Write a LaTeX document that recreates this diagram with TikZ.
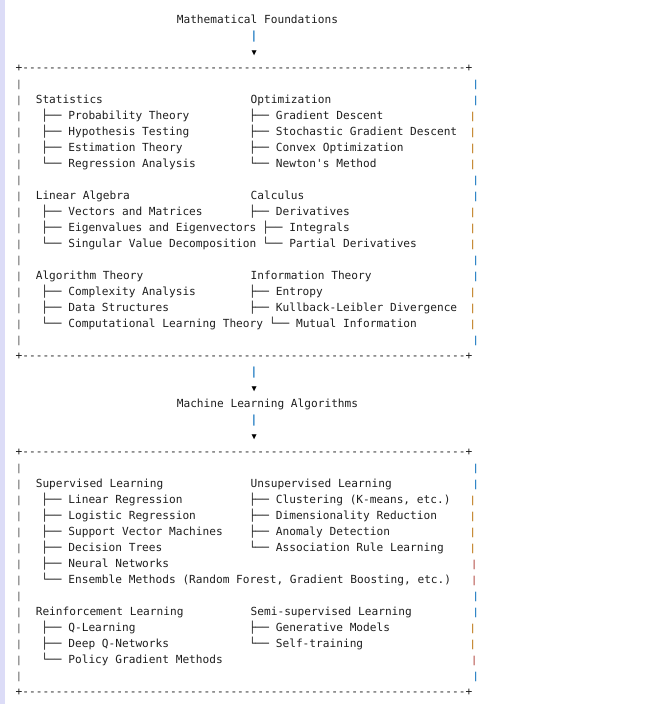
\documentclass[tikz,border=0pt]{standalone}
\usepackage{fontspec}
\setmonofont{DejaVu Sans Mono}
\usetikzlibrary{calc,positioning}
\definecolor{inkgray}{HTML}{1E1E1E}
\definecolor{sidebar}{HTML}{DCDCF7}
\definecolor{framegray}{HTML}{3C3C3C}
\definecolor{barblue}{HTML}{1A78C0}
\definecolor{barorange}{HTML}{C07E22}
\definecolor{barred}{HTML}{B85650}
\tikzset{
  ascii/.style={inner sep=0pt, outer sep=0pt, anchor=base west, text=inkgray,
    font=\ttfamily\fontsize{11.155pt}{16pt}\selectfont},
  framebar/.style={inner sep=0pt, outer sep=0pt, anchor=base, text=framegray,
    font=\ttfamily\fontsize{9.6pt}{16pt}\selectfont},
  sidebar bar/.style={framebar, font=\ttfamily\bfseries\fontsize{9.6pt}{16pt}\selectfont},
  flowbar/.style={inner sep=0pt, outer sep=0pt, anchor=base, text=barblue,
    font=\ttfamily\bfseries\fontsize{11.155pt}{16pt}\selectfont},
  flowtip/.style={inner sep=0pt, outer sep=0pt, anchor=base, text=black,
    font=\ttfamily\fontsize{8.5pt}{16pt}\selectfont}
}

\begin{document}
\begin{tikzpicture}

  \useasboundingbox (0,0) rectangle (653pt,-704pt);
  \fill[sidebar] (0,0) rectangle (5pt,-704pt);

  \begin{scope}[shift={(19pt,-23.3pt)}, x=6.716pt, y=-16pt]

    % first stage
    \node[ascii] at (23.5,0) (math_title) {Mathematical Foundations};
    \node[flowbar] at (35,1) (math_bar) {|};
    \node[flowtip] at (35,2) (math_tip) {▼};
    \node[ascii] at (-0.5,3) (math_top) {+------------------------------------------------------------------+};

    \foreach \l in {4,...,20}
      \node[framebar] at (0,\l) (math_lbar_\l) {|};
    \foreach \l in {4,5,10,11,15,16,20}
      \node[sidebar bar,text=barblue] at (68,\l) (math_rbar_\l) {|};
    \foreach \l in {6,7,8,9,12,13,14,17,18,19}
      \node[sidebar bar,text=barorange] at (67.55,\l) (math_rbar_\l) {|};

    \node[ascii] at (2.5,5) (stats) {Statistics};
    \node[ascii] at (3.35,6) (stats_a) {├── Probability Theory};
    \node[ascii] at (3.35,7) (stats_b) {├── Hypothesis Testing};
    \node[ascii] at (3.35,8) (stats_c) {├── Estimation Theory};
    \node[ascii] at (3.35,9) (stats_d) {└── Regression Analysis};

    \node[ascii] at (34.5,5) (optim) {Optimization};
    \node[ascii] at (34.25,6) (optim_a) {├── Gradient Descent};
    \node[ascii] at (34.25,7) (optim_b) {├── Stochastic Gradient Descent};
    \node[ascii] at (34.25,8) (optim_c) {├── Convex Optimization};
    \node[ascii] at (34.25,9) (optim_d) {└── Newton's Method};

    \node[ascii] at (2.5,11) (linalg) {Linear Algebra};
    \node[ascii] at (3.35,12) (linalg_a) {├── Vectors and Matrices};
    \node[ascii] at (3.35,13) (linalg_b) {├── Eigenvalues and Eigenvectors};
    \node[ascii] at (3.35,14) (linalg_c) {└── Singular Value Decomposition};

    \node[ascii] at (34.5,11) (calc) {Calculus};
    \node[ascii] at (34.25,12) (calc_a) {├── Derivatives};
    \node[ascii] at (36.25,13) (calc_b) {├── Integrals};
    \node[ascii] at (36.25,14) (calc_c) {└── Partial Derivatives};

    \node[ascii] at (2.5,16) (algo) {Algorithm Theory};
    \node[ascii] at (3.35,17) (algo_a) {├── Complexity Analysis};
    \node[ascii] at (3.35,18) (algo_b) {├── Data Structures};
    \node[ascii] at (3.35,19) (algo_c) {└── Computational Learning Theory};

    \node[ascii] at (34.5,16) (info) {Information Theory};
    \node[ascii] at (34.25,17) (info_a) {├── Entropy};
    \node[ascii] at (34.25,18) (info_b) {├── Kullback-Leibler Divergence};
    \node[ascii] at (37.25,19) (info_c) {└── Mutual Information};

    \node[ascii] at (-0.5,21) (math_bottom) {+------------------------------------------------------------------+};

    % second stage
    \node[flowbar] at (35,22) (ml_bar_in) {|};
    \node[flowtip] at (35,23) (ml_tip_in) {▼};
    \node[ascii] at (23.5,24) (ml_title) {Machine Learning Algorithms};
    \node[flowbar] at (35,25) (ml_bar) {|};
    \node[flowtip] at (35,26) (ml_tip) {▼};
    \node[ascii] at (-0.5,27) (ml_top) {+------------------------------------------------------------------+};

    \foreach \l in {28,...,41}
      \node[framebar] at (0,\l) (ml_lbar_\l) {|};
    \foreach \l in {28,29,36,37,41}
      \node[sidebar bar,text=barblue] at (68,\l) (ml_rbar_\l) {|};
    \foreach \l in {30,31,32,33,38,39}
      \node[sidebar bar,text=barorange] at (67.55,\l) (ml_rbar_\l) {|};
    \foreach \l in {34,35,40}
      \node[sidebar bar,text=barred] at (67.78,\l) (ml_rbar_\l) {|};

    \node[ascii] at (2.5,29) (superv) {Supervised Learning};
    \node[ascii] at (3.35,30) (superv_a) {├── Linear Regression};
    \node[ascii] at (3.35,31) (superv_b) {├── Logistic Regression};
    \node[ascii] at (3.35,32) (superv_c) {├── Support Vector Machines};
    \node[ascii] at (3.35,33) (superv_d) {├── Decision Trees};
    \node[ascii] at (3.35,34) (superv_e) {├── Neural Networks};
    \node[ascii] at (3.35,35) (superv_f) {└── Ensemble Methods (Random Forest, Gradient Boosting, etc.)};

    \node[ascii] at (34.5,29) (unsup) {Unsupervised Learning};
    \node[ascii] at (34.25,30) (unsup_a) {├── Clustering (K-means, etc.)};
    \node[ascii] at (34.25,31) (unsup_b) {├── Dimensionality Reduction};
    \node[ascii] at (34.25,32) (unsup_c) {├── Anomaly Detection};
    \node[ascii] at (34.25,33) (unsup_d) {└── Association Rule Learning};

    \node[ascii] at (2.5,37) (reinf) {Reinforcement Learning};
    \node[ascii] at (3.35,38) (reinf_a) {├── Q-Learning};
    \node[ascii] at (3.35,39) (reinf_b) {├── Deep Q-Networks};
    \node[ascii] at (3.35,40) (reinf_c) {└── Policy Gradient Methods};

    \node[ascii] at (34.5,37) (semi) {Semi-supervised Learning};
    \node[ascii] at (34.25,38) (semi_a) {├── Generative Models};
    \node[ascii] at (34.25,39) (semi_b) {└── Self-training};

    \node[ascii] at (-0.5,42) (ml_bottom) {+------------------------------------------------------------------+};

  \end{scope}
\end{tikzpicture}
\end{document}
